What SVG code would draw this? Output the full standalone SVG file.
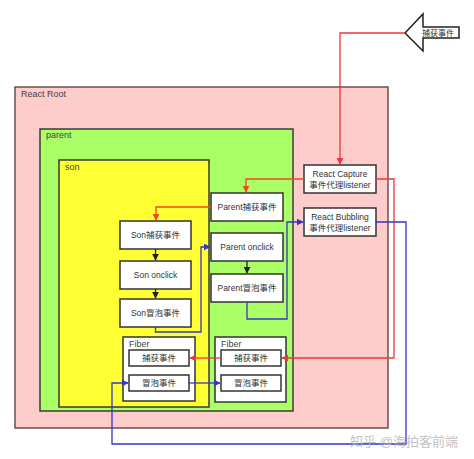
<svg xmlns="http://www.w3.org/2000/svg" width="474" height="459" viewBox="0 0 474 459">
<style>
text{font-family:"Liberation Sans","Noto Sans CJK SC",sans-serif;font-size:8.5px;fill:#333}
.lbl{font-size:9px;fill:#444}
.box{fill:#fff;stroke:#333;stroke-width:1.5}
.c{text-anchor:middle}
.red{fill:none;stroke:#e8383d;stroke-width:1.3}
.ora{fill:none;stroke:#ef4a1e;stroke-width:1.3}
.blu{fill:none;stroke:#3535c8;stroke-width:1.3}
.blk{fill:none;stroke:#222;stroke-width:1.3}
</style>
<defs>
<marker id="ar" viewBox="0 0 10 10" refX="9" refY="5" markerWidth="7" markerHeight="7" orient="auto" markerUnits="userSpaceOnUse"><path d="M0,0L10,5L0,10z" fill="#e8383d"/></marker>
<marker id="ao" viewBox="0 0 10 10" refX="9" refY="5" markerWidth="7" markerHeight="7" orient="auto" markerUnits="userSpaceOnUse"><path d="M0,0L10,5L0,10z" fill="#ef4a1e"/></marker>
<marker id="ab" viewBox="0 0 10 10" refX="9" refY="5" markerWidth="7" markerHeight="7" orient="auto" markerUnits="userSpaceOnUse"><path d="M0,0L10,5L0,10z" fill="#3535c8"/></marker>
<marker id="ak" viewBox="0 0 10 10" refX="9" refY="5" markerWidth="7" markerHeight="7" orient="auto" markerUnits="userSpaceOnUse"><path d="M0,0L10,5L0,10z" fill="#222"/></marker>
</defs>
<rect width="474" height="459" fill="#fff"/>
<g id="react-root"><rect x="15" y="87" width="373" height="341" fill="#ffcccc" stroke="#6b5050" stroke-width="1.5"/><text x="21" y="97" class="lbl">React Root</text></g>
<g id="parent"><rect x="40" y="129" width="253" height="282" fill="#aaff66" stroke="#3a3a3a" stroke-width="1.5"/><text x="46" y="138" class="lbl">parent</text></g>
<g id="son"><rect x="59" y="160" width="150" height="247" fill="#ffff33" stroke="#3a3a3a" stroke-width="1.5"/><text x="65" y="170" class="lbl">son</text></g>
<g id="capture-input"><path d="M405,33L423,14V27H459V38H423V51Z" fill="#fff" stroke="#222" stroke-width="1.5"/><text x="438" y="36" class="c" style="font-size:8px">捕获事件</text></g>
<g id="react-capture"><rect class="box" x="304" y="165" width="72" height="28"/><text x="340" y="177" class="c">React Capture</text><text x="340" y="188" class="c">事件代理listener</text></g>
<g id="react-bubbling"><rect class="box" x="304" y="208" width="72" height="28"/><text x="340" y="220" class="c">React Bubbling</text><text x="340" y="231" class="c">事件代理listener</text></g>
<g id="parent-capture"><rect class="box" x="211" y="193" width="72" height="28"/><text x="247" y="210" class="c">Parent捕获事件</text></g>
<g id="parent-onclick"><rect class="box" x="211" y="233" width="72" height="28"/><text x="247" y="250" class="c">Parent onclick</text></g>
<g id="parent-bubble"><rect class="box" x="211" y="274" width="72" height="28"/><text x="247" y="291" class="c">Parent冒泡事件</text></g>
<g id="son-capture"><rect class="box" x="120" y="221" width="71" height="28"/><text x="155.5" y="238" class="c">Son捕获事件</text></g>
<g id="son-onclick"><rect class="box" x="120" y="261" width="71" height="28"/><text x="155.5" y="278" class="c">Son onclick</text></g>
<g id="son-bubble"><rect class="box" x="120" y="299" width="71" height="28"/><text x="155.5" y="316" class="c">Son冒泡事件</text></g>
<g id="fiber-son"><rect class="box" x="123" y="337" width="72" height="64"/><text x="129" y="347" class="lbl">Fiber</text>
<rect class="box" x="129" y="350" width="60" height="16"/><text x="159" y="361" class="c">捕获事件</text>
<rect class="box" x="129" y="375" width="60" height="16"/><text x="159" y="386" class="c">冒泡事件</text></g>
<g id="fiber-parent"><rect class="box" x="215" y="337" width="71" height="65"/><text x="221" y="347" class="lbl">Fiber</text>
<rect class="box" x="221" y="350" width="60" height="16"/><text x="251" y="361" class="c">捕获事件</text>
<rect class="box" x="221" y="375" width="60" height="16"/><text x="251" y="386" class="c">冒泡事件</text></g>
<g id="connectors">
<path class="red" d="M405,33H340V164" marker-end="url(#ar)"/>
<path class="ora" d="M304,179H246V192" marker-end="url(#ao)"/>
<path class="ora" d="M211,207H156V220" marker-end="url(#ao)"/>
<path class="blk" d="M155.5,249V260" marker-end="url(#ak)"/>
<path class="blk" d="M155.5,289V298" marker-end="url(#ak)"/>
<path class="blk" d="M247,261V273" marker-end="url(#ak)"/>
<path class="red" d="M376,179H394V358H282" marker-end="url(#ar)"/>
<path class="red" d="M221,358H190" marker-end="url(#ar)"/>
<path class="blu" d="M155.5,327V332H201V247H210" marker-end="url(#ab)"/>
<path class="blu" d="M247,302V319H287V222H303" marker-end="url(#ab)"/>
<path class="blu" d="M376,222H406V444H112V383H128" marker-end="url(#ab)"/>
<path class="blu" d="M189,383H220" marker-end="url(#ab)"/>
</g>
<text x="404" y="446" class="c" style="font-size:13px;fill:#b8b8b8;opacity:0.85">知乎 @海拍客前端</text>
</svg>
